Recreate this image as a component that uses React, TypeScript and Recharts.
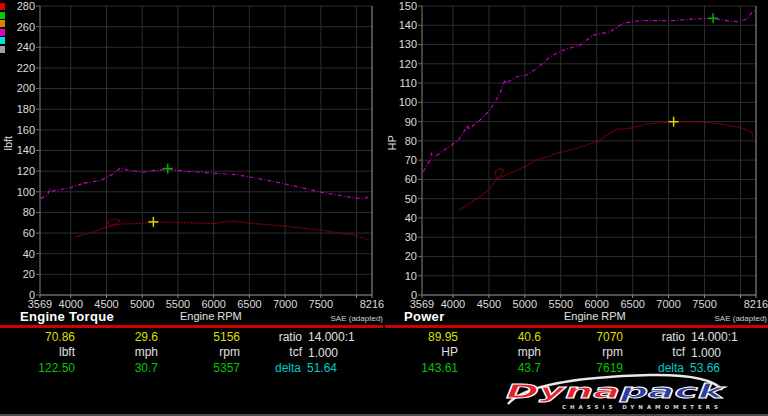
import React from 'react';
import { ComposedChart, Line, XAxis, YAxis, CartesianGrid, ReferenceDot, ReferenceLine, Label } from 'recharts';

// rpm axis
const rpmTicks = [3569, 4000, 4500, 5000, 5500, 6000, 6500, 7000, 7500, 8000, 8216];
const torqueTicks = [0, 20, 40, 60, 80, 100, 120, 140, 160, 180, 200, 220, 240, 260, 280];
const powerTicks = [0, 10, 20, 30, 40, 50, 60, 70, 80, 90, 100, 110, 120, 130, 140, 150];

// torque, run A (red) and run B (magenta)
const tqRpmA = [4066, 4322, 4486, 4602, 4690, 4650, 4556, 4505, 4560, 4720, 4930, 5162, 5396, 6003, 6236, 6563, 7030, 7500, 7966, 8176];
const tqA = [56.3, 61.1, 65.5, 67.5, 71.5, 73.7, 73.3, 70, 67.5, 68.8, 69.2, 70.5, 70.5, 69.2, 71.7, 69.2, 66.6, 62.8, 58, 53];
const tqRpmB = [3576, 3670, 3706, 3700, 3740, 3996, 4182, 4175, 4200, 4416, 4602, 4696, 4790, 5000, 5162, 5357, 5630, 6003, 6330, 6563, 6983, 7500, 7966, 8106, 8176];
const tqB = [93.4, 96.5, 102, 103, 100.7, 104, 108.4, 110, 108.5, 111, 117.5, 123.3, 121.3, 119, 120.7, 122, 119.7, 118.1, 116.5, 113.6, 107.8, 99.7, 94, 93.3, 95.6];

// power, run A (red) and run B (magenta)
const hpRpmA = [4088, 4376, 4515, 4584, 4610, 4584, 4654, 4700, 4677, 4630, 4590, 4700, 4839, 5025, 5164, 5443, 5721, 6000, 6277, 6462, 6694, 7065, 7436, 7668, 7992, 8155, 8178];
const hpA = [44.1, 51, 55.4, 58.8, 60.3, 64, 65.7, 64.9, 62.6, 60.6, 60.2, 61.6, 64, 67.1, 70, 73.5, 76.1, 79.6, 86, 86.5, 88.7, 89.9, 89.9, 89.1, 87, 84.7, 81.3];
const hpRpmB = [3587, 3650, 3704, 3700, 3750, 3913, 4074, 4213, 4205, 4260, 4376, 4515, 4654, 4724, 4747, 4886, 5025, 5164, 5350, 5535, 5767, 5952, 6184, 6369, 6601, 7065, 7297, 7599, 7760, 7946, 8085, 8155, 8216];
const hpB = [64, 68, 71.8, 73.5, 71.8, 76.1, 80.4, 88.2, 86, 87.3, 90.8, 96, 104.7, 111.6, 110.2, 113.3, 114.2, 117.6, 123.7, 127.1, 129.7, 134.9, 136.6, 141, 142.4, 142.4, 143.1, 143.6, 142.7, 141.8, 143.1, 146.5, 148];

// cursors [rpm, value]
const tqCursorA = [5156, 70.86];
const tqCursorB = [5357, 122.5];
const hpCursorA = [7070, 89.95];
const hpCursorB = [7619, 143.61];

// readout table
const tqReadout = { unit: 'lbft', a: ['70.86', '29.6', '5156'], b: ['122.50', '30.7', '5357'], ratio: '14.000:1', tcf: '1.000', delta: '51.64' };
const hpReadout = { unit: 'HP', a: ['89.95', '40.6', '7070'], b: ['143.61', '43.7', '7619'], ratio: '14.000:1', tcf: '1.000', delta: '53.66' };

const legendColors = ['#e00000', '#00d000', '#e08000', '#e000c0', '#00e0e0', '#a0a0a0'];

const zip = (xs: number[], ys: number[]) => xs.map((rpm, i) => ({ rpm, v: ys[i] }));

const FONT = '"Liberation Sans", Arial, sans-serif';
const TICK = { fill: '#dcdcdc', fontSize: 11, fontFamily: FONT };

const plus = (color: string) => (p: any) => (
  <g>
    <line x1={p.cx - 5} y1={p.cy} x2={p.cx + 5} y2={p.cy} stroke={color} strokeWidth={1.5} />
    <line x1={p.cx} y1={p.cy - 5} x2={p.cx} y2={p.cy + 5} stroke={color} strokeWidth={1.5} />
  </g>
);

function DynoChart({ a, b, ticks, max, yLabel, yWidth, curA, curB }: any) {
  return (
    <ComposedChart width={384} height={310} margin={{ top: 6, right: 12, left: 0, bottom: 0 }}>
      <CartesianGrid stroke="#2e2e2e" vertical horizontal />
      <XAxis
        type="number"
        dataKey="rpm"
        domain={[3569, 8216]}
        ticks={rpmTicks}
        interval={0}
        allowDataOverflow
        height={15}
        tickSize={3}
        tickMargin={2}
        stroke="#8a8a8a"
        tick={TICK}
        tickFormatter={(v: number) => (v === 8000 ? '' : String(v))}
      />
      <YAxis
        type="number"
        domain={[0, max]}
        ticks={ticks}
        interval={0}
        width={yWidth}
        tickSize={4}
        tickMargin={1}
        stroke="#6a6a6a"
        tick={TICK}
      >
        <Label value={yLabel} angle={-90} position="insideLeft" offset={8} fill="#dcdcdc" fontSize={11} fontFamily={FONT} />
      </YAxis>
      <ReferenceLine x={8216} stroke="#8a8a8a" />
      <Line data={a} dataKey="v" type="linear" stroke="#8a0008" strokeWidth={1.2} strokeDasharray="2 1" dot={false} isAnimationActive={false} />
      <Line data={b} dataKey="v" type="linear" stroke="#c000c0" strokeWidth={1.2} strokeDasharray="4 2 1 2" dot={false} isAnimationActive={false} />
      <ReferenceDot x={curA[0]} y={curA[1]} shape={plus('#d8d800')} />
      <ReferenceDot x={curB[0]} y={curB[1]} shape={plus('#00b000')} />
    </ComposedChart>
  );
}

const txt = (left: number, top: number, s: string, color: string, align: 'left' | 'right' = 'right', size = 12) => (
  <div
    style={{
      position: 'absolute',
      top,
      left: align === 'left' ? left : undefined,
      right: align === 'right' ? 768 - left : undefined,
      color,
      fontSize: size,
      fontFamily: FONT,
      lineHeight: '14px',
      whiteSpace: 'nowrap',
    }}
  >
    {s}
  </div>
);

function Readout({ r, x0 }: any) {
  const cols = [x0 + 75, x0 + 158, x0 + 240];
  const units = [r.unit, 'mph', 'rpm'];
  return (
    <>
      {r.a.map((s: string, i: number) => txt(cols[i], 330, s, '#dede00'))}
      {units.map((s: string, i: number) => txt(cols[i], 345, s, '#e0e0e0'))}
      {r.b.map((s: string, i: number) => txt(cols[i], 361, s, '#00c400'))}
      {txt(x0 + 302, 330, 'ratio', '#e0e0e0')}
      {txt(x0 + 308, 330, r.ratio, '#e0e0e0', 'left')}
      {txt(x0 + 302, 345, 'tcf', '#e0e0e0')}
      {txt(x0 + 308, 346, r.tcf, '#e0e0e0', 'left')}
      {txt(x0 + 301, 361, 'delta', '#00c8c8')}
      {txt(x0 + 307, 361, r.delta, '#00c8c8', 'left')}
    </>
  );
}

function Logo() {
  return (
    <svg width={230} height={44} style={{ position: 'absolute', left: 500, top: 372 }}>
      <path d="M 8 32 Q 30 6 150 3 Q 210 2 222 18" fill="none" stroke="#e8e8e8" strokeWidth={2.5} />
      <text x={6} y={26} fontFamily="'DejaVu Sans', sans-serif" fontWeight="bold" fontStyle="italic" fontSize={19} fill="#e3202c" stroke="#ffffff" strokeWidth={0.8} textLength={114} lengthAdjust="spacingAndGlyphs">Dyna</text>
      <text x={120} y={26} fontFamily="'DejaVu Sans', sans-serif" fontWeight="bold" fontStyle="italic" fontSize={19} fill="#2b3c9c" stroke="#ffffff" strokeWidth={0.8} textLength={104} lengthAdjust="spacingAndGlyphs">pack</text>
      <text x={62} y={37} fontFamily="'DejaVu Sans', sans-serif" fontWeight="bold" fontSize={5.5} fill="#d8d8d8" textLength={156} lengthAdjust="spacing">CHASSIS DYNAMOMETERS</text>
    </svg>
  );
}

export default function App() {
  return (
    <div style={{ position: 'fixed', left: 0, top: 0, width: 768, height: 416, background: '#000', overflow: 'hidden', fontFamily: FONT }}>
      <div style={{ position: 'absolute', left: 0, top: 0 }}>
        <DynoChart a={zip(tqRpmA, tqA)} b={zip(tqRpmB, tqB)} ticks={torqueTicks} max={280} yLabel="lbft" yWidth={40} curA={tqCursorA} curB={tqCursorB} />
      </div>
      <div style={{ position: 'absolute', left: 384, top: 0 }}>
        <DynoChart a={zip(hpRpmA, hpA)} b={zip(hpRpmB, hpB)} ticks={powerTicks} max={150} yLabel="HP" yWidth={38} curA={hpCursorA} curB={hpCursorB} />
      </div>

      {legendColors.map((c, i) => (
        <div key={c} style={{ position: 'absolute', left: 0, top: 3 + i * 8.5, width: 5, height: 7, background: c }} />
      ))}

      <div style={{ position: 'absolute', left: 20, top: 309, color: '#fff', fontWeight: 'bold', fontSize: 13, letterSpacing: 0.3 }}>Engine Torque</div>
      <div style={{ position: 'absolute', left: 180, top: 310, color: '#e0e0e0', fontSize: 11 }}>Engine RPM</div>
      <div style={{ position: 'absolute', right: 768 - 383, top: 314, color: '#d0d0d0', fontSize: 8 }}>SAE (adapted)</div>
      <div style={{ position: 'absolute', left: 404, top: 309, color: '#fff', fontWeight: 'bold', fontSize: 13, letterSpacing: 0.3 }}>Power</div>
      <div style={{ position: 'absolute', left: 564, top: 310, color: '#e0e0e0', fontSize: 11 }}>Engine RPM</div>
      <div style={{ position: 'absolute', right: 768 - 767, top: 314, color: '#d0d0d0', fontSize: 8 }}>SAE (adapted)</div>

      <div style={{ position: 'absolute', left: 0, top: 325, width: 383, height: 3, background: '#d00000' }} />
      <div style={{ position: 'absolute', left: 385, top: 325, width: 383, height: 3, background: '#d00000' }} />

      <Readout r={tqReadout} x0={0} />
      <Readout r={hpReadout} x0={383} />

      <Logo />
      <div style={{ position: 'absolute', left: 0, top: 414, width: 768, height: 2, background: '#4a4a4a' }} />
    </div>
  );
}
